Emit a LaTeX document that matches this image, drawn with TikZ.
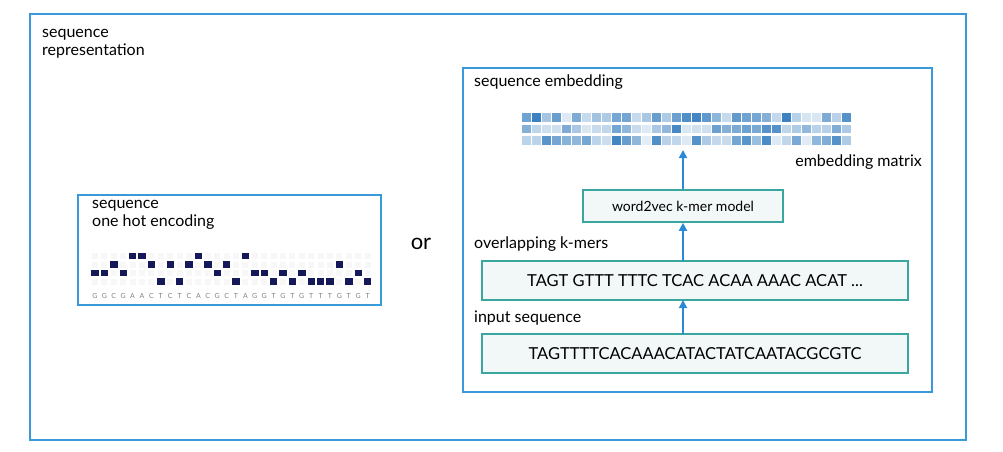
\documentclass[tikz,border=0pt]{standalone}
\usepackage{fontspec}
\setmainfont{Lato}
\usetikzlibrary{arrows.meta}
\definecolor{frame}{HTML}{3A9AD9}
\definecolor{teal}{HTML}{3AA6A0}
\definecolor{cellblue}{HTML}{1F6FB8}
\definecolor{dotblue}{HTML}{15195A}
\definecolor{boxfill}{HTML}{F2F7F8}
\definecolor{arrowblue}{HTML}{2A8AD8}
\begin{document}
\begin{tikzpicture}[x=1pt,y=-1pt,
  panel/.style={draw=frame,line width=1.6pt},
  kbox/.style={draw=teal,line width=1.6pt,fill=boxfill},
  lbl/.style={anchor=north west,inner sep=0pt,font=\fontsize{16}{18.5}\selectfont,align=left},
  seq/.style={font=\fontsize{16.5}{19}\selectfont},
  up/.style={-{Triangle[length=8pt,width=8pt]},draw=arrowblue,line width=1.8pt}]
\useasboundingbox (0,0) rectangle (1003,451);
% outer frame
\draw[panel] (30,14) rectangle (966,440);
\node[lbl] (title) at (42,29) {sequence\\representation};
% left: one hot encoding
\draw[panel] (78,195) rectangle (381,305);
\node[lbl] (oh) at (92,200) {sequence\\one hot encoding};
\foreach \i in {0,...,29}{
  \foreach \r in {0,...,3}{
    \fill[gray!6] (95+\i*9.4-3,256+\r*8.5-3) rectangle ++(6,6);}}
\foreach \l [count=\i from 0] in {2,2,1,2,0,0,1,3,1,3,1,0,1,2,1,3,0,2,2,3,2,3,2,3,3,3,1,3,2,3}{
  \fill[dotblue] (95+\i*9.4-3.7,256+\l*8.5-3.3) rectangle ++(7.4,6.6);}
\foreach \c [count=\i from 0] in {G,G,C,G,A,A,C,T,C,T,C,A,C,G,C,T,A,G,G,T,G,T,G,T,T,T,G,T,G,T}{
  \node[font=\fontsize{7}{8}\selectfont,text=gray,inner sep=0pt] at (95+\i*9.4,296) {\c};}
\node[font=\fontsize{22}{26}\selectfont] (or) at (421,244) {or};
% right: sequence embedding
\draw[panel] (463,68) rectangle (932,392);
\node[lbl] (emb) at (474,75) {sequence embedding};
\pgfmathsetseed{11}
\foreach \r in {0,1,2}{
  \foreach \i in {0,...,32}{
    \pgfmathsetmacro{\v}{int(12+rnd*80)}
    \fill[cellblue!\v!white] (522+\i*10,113+\r*11.5) rectangle ++(8.5,8.5);}}
\coordinate (mat) at (683,150);
\node[lbl,anchor=north east] (embm) at (922,155) {embedding matrix};
\node[kbox,minimum width=200pt,minimum height=32pt,font=\fontsize{14}{16}\selectfont] (w2v) at (683,206) {word2vec k-mer model};
\node[lbl] (kmlbl) at (474,237) {overlapping k-mers};
\node[kbox,minimum width=426pt,minimum height=39pt,seq] (kmers) at (695,280.5) {TAGT GTTT TTTC TCAC ACAA AAAC ACAT ...};
\node[lbl] (inlbl) at (474,311) {input sequence};
\node[kbox,minimum width=426pt,minimum height=39pt,seq] (input) at (695,353.5) {TAGTTTTCACAAACATACTATCAATACGCGTC};
\draw[up] (683,334) -- (683,300);
\draw[up] (683,261) -- (w2v.south);
\draw[up] (w2v.north) -- (mat);
\end{tikzpicture}
\end{document}
